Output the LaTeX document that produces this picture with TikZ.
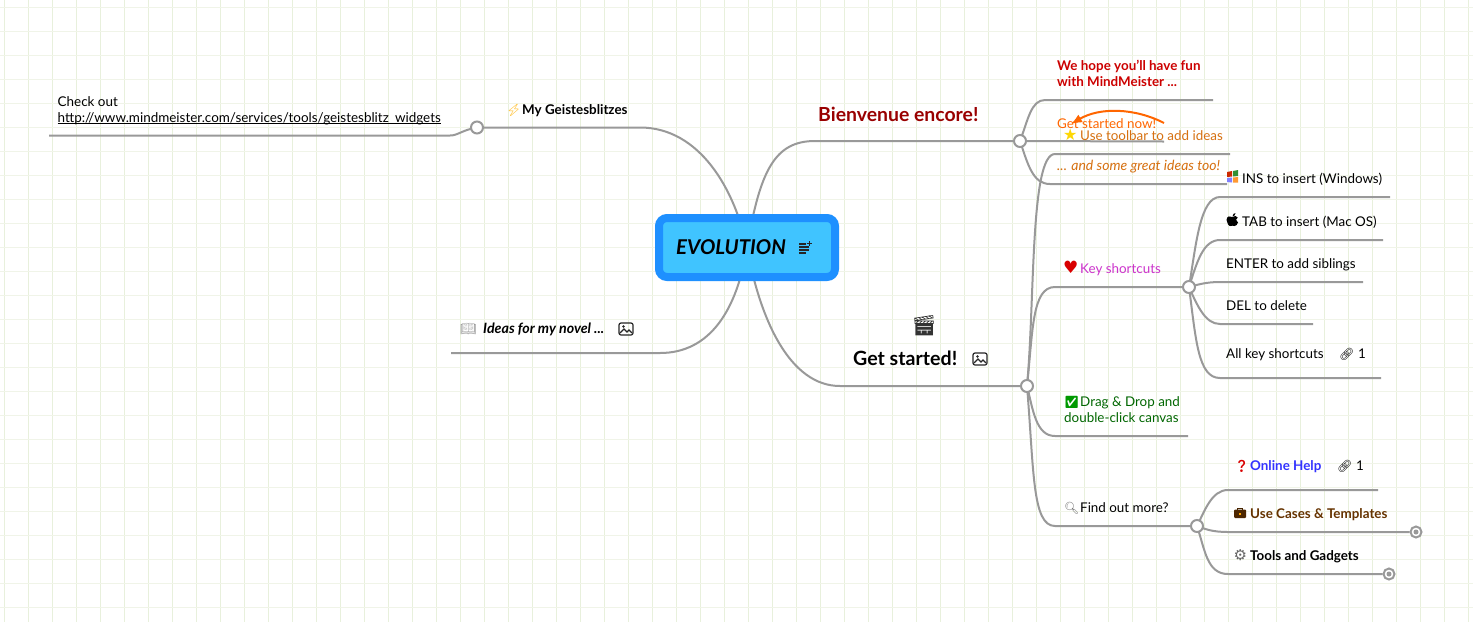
\documentclass[tikz,border=0pt]{standalone}
\usepackage{fontspec}
\setmainfont{Lato}
\newfontfamily\emofont{Noto Emoji}
\newfontfamily\symfont{DejaVu Sans}
\usetikzlibrary{backgrounds,arrows.meta}
\definecolor{Grid}{RGB}{232, 240, 220}
\definecolor{Grih}{RGB}{240, 244, 232}
\definecolor{Line}{RGB}{153, 153, 153}
\definecolor{Rim}{RGB}{30, 144, 255}
\definecolor{Core}{RGB}{64, 196, 255}
\definecolor{R}{RGB}{204, 0, 0}
\definecolor{DR}{RGB}{153, 0, 0}
\definecolor{O}{RGB}{255, 102, 0}
\definecolor{DO}{RGB}{214, 112, 16}
\definecolor{M}{RGB}{204, 51, 204}
\definecolor{G}{RGB}{0, 102, 0}
\definecolor{B}{RGB}{51, 51, 255}
\definecolor{Br}{RGB}{102, 51, 0}
\newcommand{\emo}[2]{\makebox[16pt][l]{\textcolor{#1}{\emofont\fontsize{12}{12}\selectfont #2}}}
\newcommand{\sym}[3][16]{\makebox[16pt][l]{\textcolor{#2}{\symfont\fontsize{#1}{13}\selectfont #3}}}
\newlength{\undertextwd}
\newcommand{\undertext}[1]{\settowidth{\undertextwd}{#1}\rlap{\rule[-1.8pt]{\undertextwd}{0.9pt}}#1}
\tikzset{
	branch/.style={draw=Line, line width=2pt},
	hub/.style={circle, draw=Line, fill=white, line width=2pt, minimum size=12pt, inner sep=0pt},
	tail/.style={hub, minimum size=11pt},
	label/.style={anchor=base west, inner sep=0pt, font=\fontsize{13.4}{16}\selectfont, align=left, text=black},
	boldlabel/.style={label, font=\fontsize{13.4}{16}\selectfont\bfseries},
	imgicon/.pic={
		\draw[line width=1.2pt, rounded corners=2pt, draw=black!85] (-7,-6) rectangle (7,6);
		\draw[line width=1.1pt, draw=black!85] (-6,4) -- (-2,0) -- (1,3) -- (3,1) -- (6,4);
		\fill[black!85] (-2.5,-2.5) circle (1.3);
	},
	noteicon/.pic={
		\foreach \yy/\ww in {-3/7,0/10,3/10,6/7} \draw[line width=1.2pt, draw=black!85] (-6,\yy) -- (-6+\ww,\yy);
		\draw[line width=1pt, draw=black!85] (4,-6) -- (4,-1) (1.5,-3.5) -- (6.5,-3.5);
	},
	winflag/.pic={
		\fill[red!60!orange!80!black] (-5.5,-5) -- (-0.5,-6) -- (-0.5,-0.5) -- (-5.5,0) -- cycle;
		\fill[green!45!black!80!white] (0.5,-6) -- (5.5,-7) -- (5.5,-1) -- (0.5,-0.5) -- cycle;
		\fill[blue!50!white] (-5.5,1) -- (-0.5,0.5) -- (-0.5,5.5) -- (-5.5,5) -- cycle;
		\fill[orange!80!white] (0.5,0.5) -- (5.5,0) -- (5.5,5.5) -- (0.5,5.5) -- cycle;
	},
	applelogo/.pic={
		\fill[black] (0,-3) .. controls (-2,-4.5) and (-6,-4) .. (-6,0) .. controls (-6,3) and (-3.5,6.5) .. (-2,6) .. controls (-1,5.6) and (1,5.6) .. (2,6) .. controls (3.5,6.5) and (5,4) .. (5.5,2.5) .. controls (3,1.5) and (3,-2) .. (5.2,-2.5) .. controls (4,-4.5) and (2,-4.5) .. (0,-3) -- cycle;
		\fill[black] (0,-3.6) .. controls (0,-5.5) and (1.5,-7) .. (3,-7) .. controls (3,-5) and (1.5,-3.6) .. (0,-3.6) -- cycle;
	},
	caseicon/.pic={
		\draw[Br!70!black, line width=1pt] (-2.5,-3) -- (-2.5,-5) -- (2.5,-5) -- (2.5,-3);
		\fill[Br!75!black, rounded corners=1pt] (-6,-3.5) rectangle (6,5);
		\fill[orange!70!yellow] (-1,0) rectangle (1,2);
	}
}

\begin{document}
\begin{tikzpicture}[x=1pt,y=-1pt]
	\useasboundingbox (0,0) rectangle (1473,622);

	% the nodes
	\node[draw=Rim, fill=Core, line width=8pt, rounded corners=8pt, minimum width=176pt, minimum height=59pt, inner sep=0pt] (evolution) at (747,247.5) {};
	\node[anchor=base west, inner sep=0pt, font=\fontsize{20.4}{24}\selectfont\bfseries\itshape] (evotext) at (676,254) {EVOLUTION};
	\pic at (805,247) {noteicon};

	\node[hub] (hubgeist) at (477,127.5) {};
	\node[hub] (hubbien) at (1020,141) {};
	\node[hub] (hubget) at (1027,386) {};
	\node[hub] (hubkeys) at (1189,287) {};
	\node[hub] (hubfind) at (1197,526) {};
	\node[tail] (hubcases) at (1416,532) {};
	\node[tail] (hubtools) at (1389,574) {};
	\fill[Line] (hubcases) circle (2.5) (hubtools) circle (2.5);

	\node[label, font=\fontsize{13.45}{16}\selectfont] (checkout) at (57.5,122) {Check out\\\undertext{http://www.mindmeister.com/services/tools/geistesblitz\_widgets}};
	\node[boldlabel] (geist) at (506,114) {\emo{orange!60!yellow}{⚡}My Geistesblitzes};
	\node[label, font=\fontsize{14.2}{16}\selectfont\bfseries\itshape] (novel) at (460,333) {\makebox[23pt][l]{\textcolor{black!40}{\emofont\fontsize{13}{13}\selectfont 📖}}Ideas for my novel ...};
	\pic at (626,329) {imgicon};

	\node[label, font=\fontsize{19.4}{22}\selectfont\bfseries, text=DR] (bienvenue) at (818,121) {Bienvenue encore!};
	\node[boldlabel, text=R] (fun) at (1057,86) {We hope you'll have fun\\with MindMeister ...};
	\node[label, text=O] (getnow) at (1057,128) {Get started now!};
	\node[label, text=DO] (toolbar) at (1063,140) {\sym{yellow!75!orange}{★}\hspace{1pt}Use toolbar to add ideas};
	\node[label, text=DO, font=\fontsize{14}{16}\selectfont\itshape] (great) at (1057,170) {... and some great ideas too!};

	\node[anchor=base, inner sep=0pt, font=\emofont\fontsize{20}{20}\selectfont, text=black!80] (clapper) at (924,332) {🎬};
	\node[label, font=\fontsize{19.6}{22}\selectfont\bfseries] (getstarted) at (853,365) {Get started!};
	\pic at (980,359) {imgicon};

	\node[label, text=M] (keys) at (1063,273) {\sym[17]{red!85!black}{♥}\hspace{1pt}Key shortcuts};
	\node[label, text=G] (drag) at (1064,422) {\emo{green!60!black}{✅}Drag \& Drop and\\double-click canvas};
	\node[label] (find) at (1064,512) {\emo{black!55}{🔍}Find out more?};

	\pic at (1232.5,177) {winflag};
	\node[label] (ins) at (1242,183) {INS to insert (Windows)};
	\pic at (1232.5,220) {applelogo};
	\node[label] (tab) at (1242,226) {TAB to insert (Mac OS)};
	\node[label] (enter) at (1226,268) {ENTER to add siblings};
	\node[label] (del) at (1226,310) {DEL to delete};
	\node[label] (allkeys) at (1226,358) {All key shortcuts};
	\node[label] (linkkeys) at (1339,358) {\emo{black}{🔗}\hspace{3pt}1};

	\node[boldlabel, text=B] (help) at (1234,470) {\emo{red!85!black}{❓}Online Help};
	\node[label] (linkhelp) at (1337,470) {\emo{black}{🔗}\hspace{3pt}1};
	\pic at (1240,513) {caseicon};
	\node[boldlabel, text=Br] (cases) at (1250,518) {Use Cases \& Templates};
	\node[boldlabel] (tools) at (1233.5,560) {\sym[15]{black!60}{⚙}\hspace{0.5pt}Tools and Gadgets};

	% the branch ends
	\coordinate (topflat) at (815,141);
	\coordinate (geistflat) at (640,127.5);
	\coordinate (novelflat) at (660,353);
	\coordinate (novelend) at (451,353);
	\coordinate (getflat) at (840,386);
	\coordinate (checkflat) at (450,135.5);
	\coordinate (checkend) at (49,135.5);
	\coordinate (funflat) at (1045,100);
	\coordinate (funend) at (1213,100);
	\coordinate (toolbarend) at (1164,141.5);
	\coordinate (greatflat) at (1050,184);
	\coordinate (greatend) at (1227,184);
	\coordinate (upflat) at (1055,154);
	\coordinate (upend) at (1230,154);
	\coordinate (keysflat) at (1055,287);
	\coordinate (dragflat) at (1055,436);
	\coordinate (dragend) at (1188,436);
	\coordinate (findflat) at (1055,526);
	\coordinate (insflat) at (1220,197);
	\coordinate (insend) at (1390,197);
	\coordinate (tabflat) at (1220,240);
	\coordinate (tabend) at (1383,240);
	\coordinate (enterflat) at (1220,282);
	\coordinate (enterend) at (1363,282);
	\coordinate (delflat) at (1220,324);
	\coordinate (delend) at (1313,324);
	\coordinate (allflat) at (1220,378);
	\coordinate (allend) at (1381,378);
	\coordinate (helpflat) at (1228,490);
	\coordinate (helpend) at (1378,490);
	\coordinate (casesflat) at (1228,532);
	\coordinate (toolsflat) at (1228,574);
	\coordinate (arrowfrom) at (1164,123);
	\coordinate (arrowto) at (1071,124);

	\begin{scope}[on background layer]
		\fill[white] (0,0) rectangle (1473,622);
		\foreach \k in {0,...,61} \draw[Grid, line width=1.3pt] (4.5+24*\k,0) -- (4.5+24*\k,622);
		\foreach \k in {0,...,25} \draw[Grih, line width=1.3pt] (0,7.5+24*\k) -- (1473,7.5+24*\k);

		\draw[branch] (evolution.center) .. controls (760,170) and (775,141) .. (topflat) -- (hubbien);
		\draw[branch] (evolution.center) .. controls (735,190) and (700,127.5) .. (geistflat) -- (hubgeist);
		\draw[branch] (evolution.center) .. controls (737,310) and (710,353) .. (novelflat) -- (novelend);
		\draw[branch] (evolution.center) .. controls (760,320) and (790,386) .. (getflat) -- (hubget);
		\draw[branch] (hubgeist.center) .. controls (462,130) and (458,135.5) .. (checkflat) -- (checkend);

		\draw[branch] (hubbien.center) .. controls (1028,120) and (1031,100) .. (funflat) -- (funend);
		\draw[branch] (hubbien.center) -- (toolbarend);
		\draw[branch] (hubbien.center) .. controls (1028,165) and (1033,184) .. (greatflat) -- (greatend);

		\draw[branch] (hubget.center) .. controls (1035,300) and (1030,154) .. (upflat) -- (upend);
		\draw[branch] (hubget.center) .. controls (1033,330) and (1032,287) .. (keysflat) -- (hubkeys);
		\draw[branch] (hubget.center) .. controls (1033,410) and (1036,436) .. (dragflat) -- (dragend);
		\draw[branch] (hubget.center) .. controls (1034,470) and (1032,526) .. (findflat) -- (hubfind);

		\draw[branch] (hubkeys.center) .. controls (1196,245) and (1200,197) .. (insflat) -- (insend);
		\draw[branch] (hubkeys.center) .. controls (1197,262) and (1203,240) .. (tabflat) -- (tabend);
		\draw[branch] (hubkeys.center) .. controls (1197,285) and (1205,282) .. (enterflat) -- (enterend);
		\draw[branch] (hubkeys.center) .. controls (1197,305) and (1205,324) .. (delflat) -- (delend);
		\draw[branch] (hubkeys.center) .. controls (1196,340) and (1198,378) .. (allflat) -- (allend);

		\draw[branch] (hubfind.center) .. controls (1205,510) and (1212,490) .. (helpflat) -- (helpend);
		\draw[branch] (hubfind.center) .. controls (1205,529) and (1212,532) .. (casesflat) -- (hubcases);
		\draw[branch] (hubfind.center) .. controls (1205,550) and (1207,574) .. (toolsflat) -- (hubtools);
	\end{scope}

	\draw[O, line width=2pt, -{Latex[length=11pt,width=9pt]}] (arrowfrom) .. controls (1135,108) and (1100,107) .. (arrowto);
\end{tikzpicture}
\end{document}
